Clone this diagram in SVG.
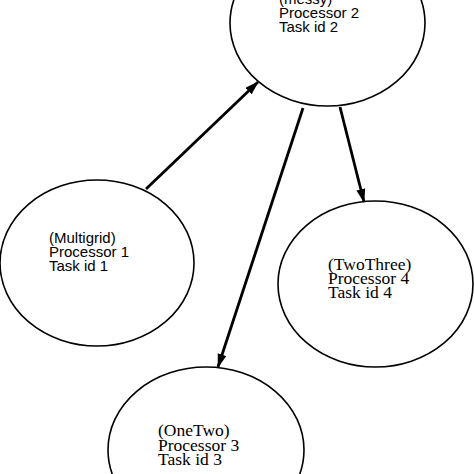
<svg xmlns="http://www.w3.org/2000/svg" width="474" height="474" viewBox="0 0 474 474">
<style>
.node{fill:#fff;stroke:#000;stroke-width:1.6}
.sans{font-family:"Liberation Sans",Arial,sans-serif;font-size:15px;fill:#000}
.serif{font-family:"Liberation Serif","Times New Roman",serif;font-size:17.5px;fill:#000}
.edge{stroke:#000;stroke-width:2.8;fill:none;marker-end:url(#arr)}
</style>
<defs>
<marker id="arr" markerUnits="userSpaceOnUse" markerWidth="14" markerHeight="10" refX="13" refY="4.5" orient="auto">
<path d="M0,0 L14,4.5 L0,9 z" fill="#000"/>
</marker>
</defs>
<rect width="474" height="474" fill="#fff"/>
<g id="node-messy">
<ellipse class="node" cx="327.5" cy="23" rx="97.5" ry="83"/>
<text class="sans" x="279" y="4">(messy)</text>
<text class="sans" x="279" y="18">Processor 2</text>
<text class="sans" x="279" y="32">Task id 2</text>
</g>
<g id="node-multigrid">
<ellipse class="node" cx="97" cy="263" rx="97" ry="83"/>
<text class="sans" x="49" y="243">(Multigrid)</text>
<text class="sans" x="49" y="257">Processor 1</text>
<text class="sans" x="49" y="271">Task id 1</text>
</g>
<g id="node-twothree">
<ellipse class="node" cx="375.5" cy="284" rx="97.5" ry="83"/>
<text class="serif" x="328" y="270">(TwoThree)</text>
<text class="serif" x="328" y="284">Processor 4</text>
<text class="serif" x="328" y="298">Task id 4</text>
</g>
<g id="node-onetwo">
<ellipse class="node" cx="206" cy="450" rx="98" ry="83"/>
<text class="serif" x="158" y="436">(OneTwo)</text>
<text class="serif" x="158" y="451">Processor 3</text>
<text class="serif" x="158" y="465">Task id 3</text>
</g>
<g id="connectors">
<line class="edge" x1="146" y1="189" x2="258" y2="82"/>
<line class="edge" x1="303" y1="108" x2="218" y2="367"/>
<line class="edge" x1="340" y1="107" x2="364" y2="202"/>
</g>
</svg>
